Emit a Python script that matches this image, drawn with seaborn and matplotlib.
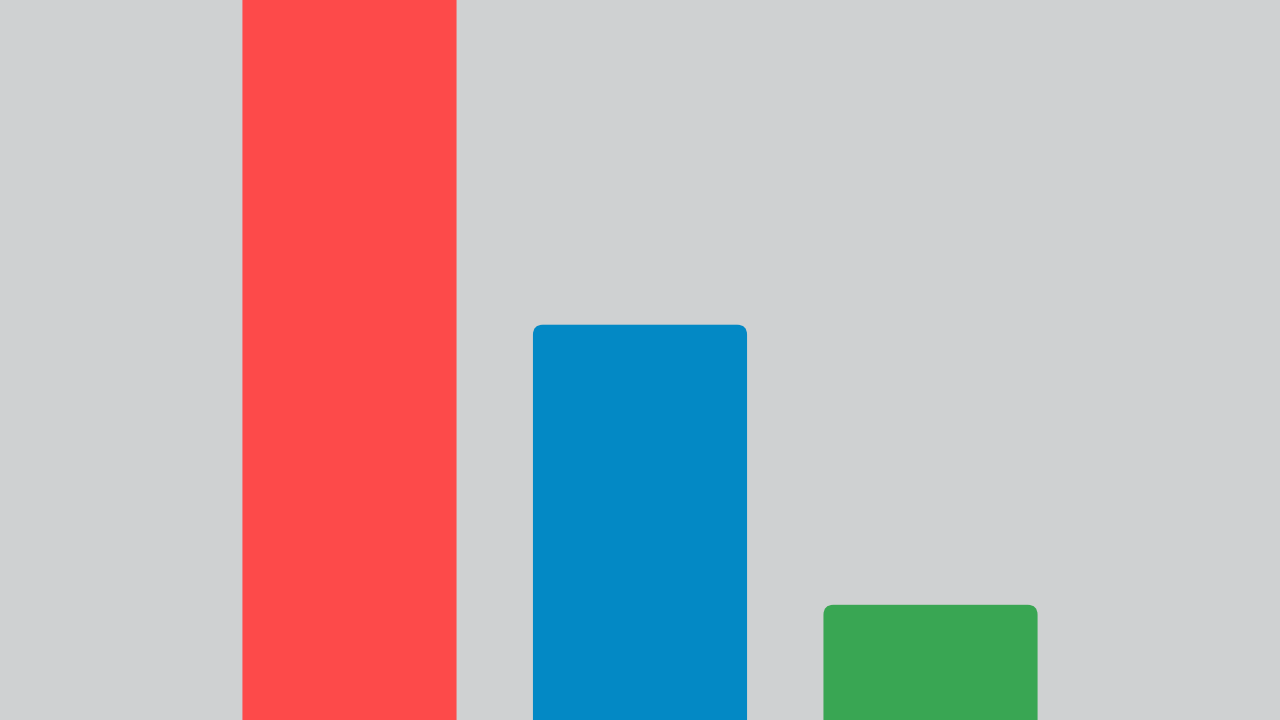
import numpy as np
import pandas as pd
import matplotlib
matplotlib.use('Agg')
import matplotlib.pyplot as plt
import seaborn as sns
from matplotlib.patches import FancyBboxPatch

# bar data (red bar runs past the top of the frame)
categories = ['A', 'B', 'C']
values = [110, 54.9, 16.0]
colors = ['#fd4a4a', '#0389c5', '#39a653']
bg = '#cfd1d2'

df = pd.DataFrame({'cat': categories, 'val': values})

fig = plt.figure(figsize=(12.8, 7.2), dpi=100)
fig.patch.set_facecolor(bg)
ax = fig.add_axes([0, 0, 1, 1])
ax.set_facecolor(bg)

sns.barplot(data=df, x='cat', y='val', hue='cat', palette=colors,
            saturation=1, width=0.737, legend=False, ax=ax)

ax.set_xlim(-1.203, 3.203)
ax.set_ylim(0, 100)

# swap the square bars for ones with rounded tops
px_x = 1280 / (3.203 + 1.203)
px_y = 720 / 100
for p in list(ax.patches):
    x0, w, h = p.get_x(), p.get_width(), p.get_height()
    fc = p.get_facecolor()
    p.remove()
    rb = FancyBboxPatch((x0, -5), w, h + 5,
                        boxstyle='round,pad=0,rounding_size=%f' % (10 / px_x),
                        mutation_aspect=px_x / px_y,
                        facecolor=fc, edgecolor='none')
    ax.add_patch(rb)

ax.axis('off')
fig.savefig('out.png', dpi=100, facecolor=bg)
